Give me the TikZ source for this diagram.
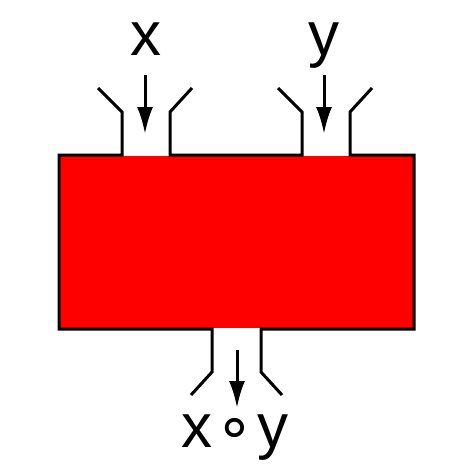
\documentclass[tikz,border=0pt]{standalone}
\usepackage{fontspec}
\setmainfont{Liberation Sans}
\newfontfamily\dejavu{DejaVu Sans}
\usetikzlibrary{arrows.meta}
\begin{document}
\begin{tikzpicture}[x=1pt,y=-1pt,
  wall/.style={line width=3pt,line join=miter,black},
  flow/.style={line width=3pt,-{Latex[length=27pt,width=16pt]}},
  lbl/.style={anchor=base,inner sep=0pt,font=\fontsize{62}{62}\selectfont}]
\useasboundingbox (0,0) rectangle (474,474);
% box
\fill[red] (59,156) rectangle (414,328);
% outline with funnels
\draw[wall] (98,88) -- (122,112) -- (122,155) -- (59,155) -- (59,329) -- (212,329) -- (212,372) -- (191,395);
\draw[wall] (282,395) -- (261,372) -- (261,329) -- (414,329) -- (414,155) -- (350,155) -- (350,112) -- (372,88);
\draw[wall] (192,88) -- (170,112) -- (170,155) -- (302,155) -- (302,112) -- (278,88);
% labels
\node[lbl] (lx) at (146,55) {x};
\node[lbl] (ly) at (324,55) {y};
\node[lbl] (lxy) at (235,447) {x\hspace{3pt}{\dejavu ∘}\hspace{3pt}y};
% arrows
\coordinate (ax0) at (145,75); \coordinate (ax1) at (145,134);
\coordinate (ay0) at (324,75); \coordinate (ay1) at (324,134);
\coordinate (ao0) at (237,350); \coordinate (ao1) at (237,408);
\draw[flow] (ax0) -- (ax1);
\draw[flow] (ay0) -- (ay1);
\draw[flow] (ao0) -- (ao1);
\end{tikzpicture}
\end{document}
